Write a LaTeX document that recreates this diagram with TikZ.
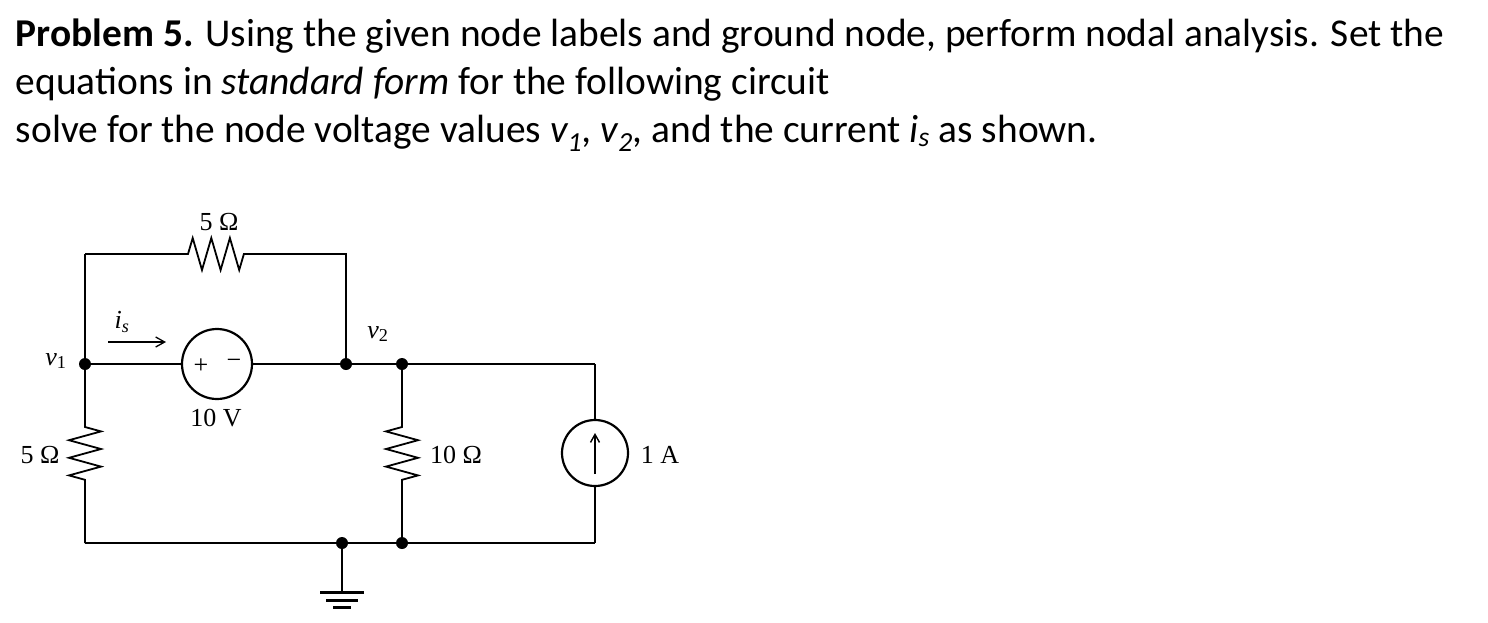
\documentclass[tikz,border=0pt]{standalone}
\usepackage{fontspec}
\usetikzlibrary{arrows.meta}
\setmainfont{Carlito}
\newfontfamily\circfont{Liberation Serif}
\begin{document}
\begin{tikzpicture}[x=1pt,y=-1pt,line width=1.8pt,
  wire/.style={line width=1.8pt},
  dotc/.style={circle,fill=black,inner sep=0pt,minimum size=12pt},
  lbl/.style={font=\circfont\fontsize{26}{26}\selectfont,inner sep=0pt},
  ttl/.style={font=\fontsize{39.4}{46}\selectfont,anchor=base west,inner sep=0pt}]
\useasboundingbox (0,0) rectangle (1488,622);
\node[ttl] (t1) at (15,46) {\textbf{Problem 5.} Using the given node labels and ground node, perform nodal analysis. Set the};
\node[ttl] (t2) at (15,94) {equations in \textit{standard form} for the following circuit};
\node[ttl] (t3) at (15,142) {solve for the node voltage values \textit{v\textsubscript{1}, v\textsubscript{2}}, and the current \textit{i\textsubscript{s}} as shown.};
% coordinates
\coordinate (TL) at (85,254); \coordinate (TR) at (346,254);
\coordinate (ML) at (85,364); \coordinate (MR) at (346,364);
\coordinate (MB) at (402,364); \coordinate (RT) at (595,364);
\coordinate (BL) at (85,543); \coordinate (BG) at (342,543);
\coordinate (BB) at (402,543); \coordinate (BR) at (595,543);
\coordinate (GND) at (342,592);
% top branch with resistor
\draw[wire] (TL) -- (ML);
\draw[wire] (TL) -- (188,254) -- ++(4.7,-16) -- ++(9.3,32) -- ++(9.3,-32) -- ++(9.3,32) -- ++(9.3,-32) -- ++(9.3,32) -- ++(4.7,-16) -- (TR) -- (MR);
% voltage source
\node[draw,circle,minimum size=70pt,inner sep=0pt,line width=2.2pt] (vs) at (217,364) {};
\node[lbl] (plus) at (201,366) {+};
\node[lbl] (minus) at (234,364) {\textminus};
\draw[wire] (ML) -- (vs.west);
\draw[wire] (vs.east) -- (MR) -- (MB) -- (RT);
% left resistor
\draw[wire] (ML) -- (85,427) -- ++(16,4.4) -- ++(-32,8.8) -- ++(32,8.8) -- ++(-32,8.8) -- ++(32,8.8) -- ++(-32,8.8) -- ++(16,4.4) -- (BL);
% middle resistor
\draw[wire] (MB) -- (402,427) -- ++(-16,4.4) -- ++(32,8.8) -- ++(-32,8.8) -- ++(32,8.8) -- ++(-32,8.8) -- ++(32,8.8) -- ++(-16,4.4) -- (BB);
% bottom
\draw[wire] (BL) -- (BR);
% current source
\node[draw,circle,minimum size=66pt,inner sep=0pt,line width=2.2pt] (cs) at (595,453) {};
\draw[wire] (RT) -- (cs.north);
\draw[wire] (cs.south) -- (BR);
\draw[line width=1.4pt,-{Straight Barb[length=8pt,width=9pt]}] (595,474) -- (595,433);
% ground
\draw[wire] (BG) -- (GND);
\draw[line width=3pt] (320,592) -- (364,592);
\draw[line width=3pt] (326,600) -- (358,600);
\draw[line width=3pt] (333,607) -- (351,607);
% dots
\node[dotc] (d1) at (ML) {};
\node[dotc] (d2) at (MR) {};
\node[dotc] (d3) at (MB) {};
\node[dotc] (d4) at (BG) {};
\node[dotc] (d5) at (BB) {};
% current arrow
\coordinate (a1) at (108,342); \coordinate (a2) at (166,342);
\draw[line width=1.3pt,-{Straight Barb[length=9pt,width=10pt]}] (a1) -- (a2);
% labels
\node[lbl] (lis) at (122,322) {\textit{i\textsubscript{s}}};
\node[lbl] (lv1) at (56,361) {\textit{v}\textsubscript{1}};
\node[lbl] (lv2) at (378,334) {\textit{v}\textsubscript{2}};
\node[lbl] (l10v) at (216,418) {10 V};
\node[lbl] (l5t) at (219,222) {5 Ω};
\node[lbl] (l5l) at (40,455) {5 Ω};
\node[lbl] (l10) at (456,455) {10 Ω};
\node[lbl] (l1a) at (660,455) {1 A};
\end{tikzpicture}
\end{document}
